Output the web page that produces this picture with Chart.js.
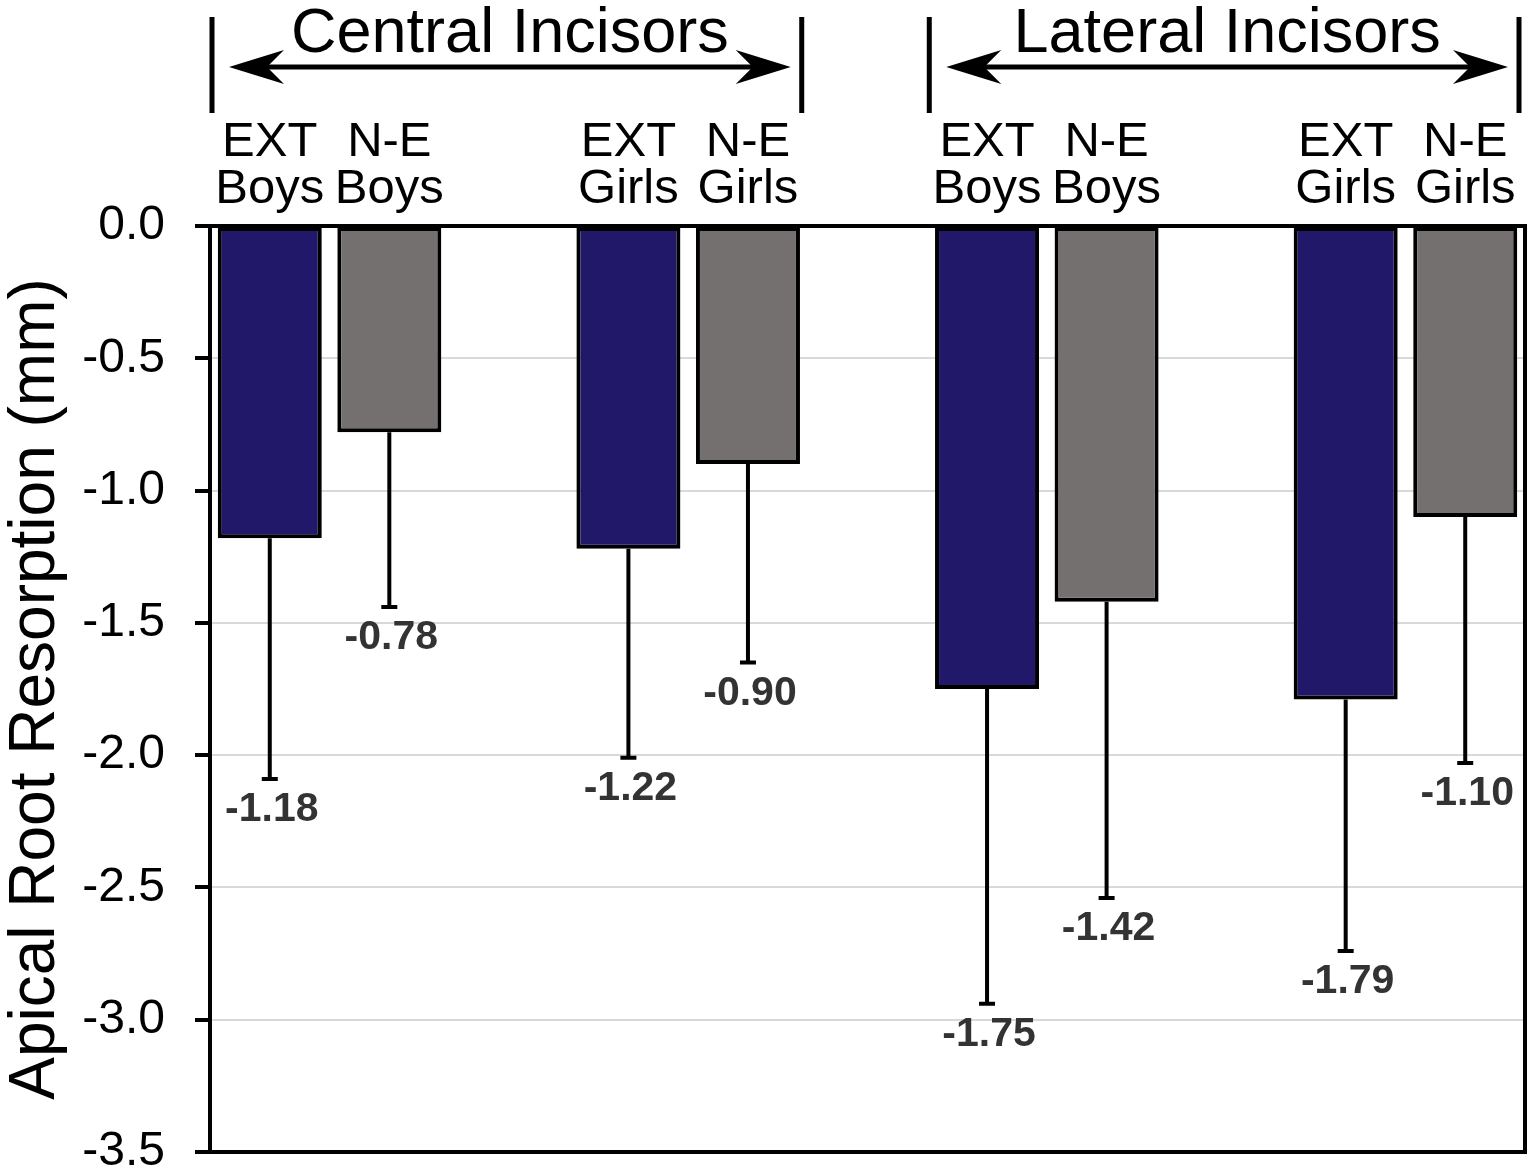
<!DOCTYPE html>
<html>
<head>
<meta charset="utf-8">
<script src="https://cdn.jsdelivr.net/npm/chart.js@4.4.1/dist/chart.umd.min.js"></script>
<style>
  body { margin: 0; background: #fff; }
  #wrap { width: 1535px; height: 1175px; position: relative; }
</style>
</head>
<body>
<div id="wrap"><canvas id="grafico"></canvas></div>
<script>
// categorias (las posiciones vacias separan los grupos)
const categorias = [
    ['EXT', 'Boys'], ['N-E', 'Boys'], '',
    ['EXT', 'Girls'], ['N-E', 'Girls'], '',
    ['EXT', 'Boys'], ['N-E', 'Boys'], '',
    ['EXT', 'Girls'], ['N-E', 'Girls']
];
const medias = [-1.18, -0.78, null, -1.22, -0.90, null, -1.75, -1.42, null, -1.79, -1.10];
const desviacion = [0.91, 0.66, null, 0.79, 0.75, null, 1.19, 1.12, null, 0.95, 0.93];
const colores = ['#22186A', '#73706F', null, '#22186A', '#73706F', null, '#22186A', '#73706F', null, '#22186A', '#73706F'];
const ticksY = [-3.5, -3.0, -2.5, -2.0, -1.5, -1.0, -0.5, 0];
const grupos = ['Central Incisors', 'Lateral Incisors'];
const rangoGrupos = [[0, 4], [6, 10]];

const fuente = "'Liberation Sans', Arial, sans-serif";

const pluginExtras = {
    id: 'extras',
    afterDatasetsDraw(chart) {
        const ctx = chart.ctx;
        const y = chart.scales.y;
        const x = chart.scales.x;
        const meta = chart.getDatasetMeta(0);
        const area = chart.chartArea;

        // barras de error y etiquetas
        ctx.save();
        ctx.strokeStyle = '#000';
        ctx.lineWidth = 4;
        medias.forEach((m, i) => {
            if (m === null) return;
            const bar = meta.data[i];
            const yFin = y.getPixelForValue(m - desviacion[i]);
            ctx.beginPath();
            ctx.moveTo(bar.x, bar.y);
            ctx.lineTo(bar.x, yFin);
            ctx.moveTo(bar.x - 8, yFin);
            ctx.lineTo(bar.x + 8, yFin);
            ctx.stroke();
            ctx.fillStyle = '#333';
            ctx.font = 'bold 41px ' + fuente;
            ctx.textAlign = 'center';
            ctx.textBaseline = 'alphabetic';
            ctx.fillText(m.toFixed(2), bar.x + 2, yFin + 42);
        });

        // marco
        ctx.lineWidth = 4;
        ctx.strokeRect(area.left, area.top, area.right - area.left, area.bottom - area.top);

        // corchetes superiores
        const ancho = x.getPixelForValue(1) - x.getPixelForValue(0);
        ctx.fillStyle = '#000';
        rangoGrupos.forEach((r, g) => {
            const izq = x.getPixelForValue(r[0]) - ancho / 2 + 2;
            const der = x.getPixelForValue(r[1]) + ancho / 2 - 6;
            ctx.lineWidth = 5;
            ctx.beginPath();
            ctx.moveTo(izq, 17); ctx.lineTo(izq, 113);
            ctx.moveTo(der, 17); ctx.lineTo(der, 113);
            ctx.stroke();
            const a = izq + 17, b = der - 11, yA = 67;
            ctx.lineWidth = 5;
            ctx.beginPath();
            ctx.moveTo(a + 30, yA); ctx.lineTo(b - 30, yA);
            ctx.stroke();
            // puntas
            ctx.beginPath();
            ctx.moveTo(a, yA); ctx.lineTo(a + 55, yA - 17); ctx.lineTo(a + 38, yA); ctx.lineTo(a + 55, yA + 17);
            ctx.closePath(); ctx.fill();
            ctx.beginPath();
            ctx.moveTo(b, yA); ctx.lineTo(b - 55, yA - 17); ctx.lineTo(b - 38, yA); ctx.lineTo(b - 55, yA + 17);
            ctx.closePath(); ctx.fill();
            ctx.font = '63px ' + fuente;
            ctx.textAlign = 'center';
            ctx.textBaseline = 'alphabetic';
            ctx.fillText(grupos[g], (a + b) / 2, 52);
        });
        ctx.restore();
    }
};

const ctx = document.getElementById('grafico').getContext('2d');
new Chart(ctx, {
    type: 'bar',
    data: {
        labels: categorias,
        datasets: [{
            data: medias,
            backgroundColor: colores,
            borderColor: '#000',
            borderWidth: 4,
            borderSkipped: false,
            barPercentage: 0.87,
            categoryPercentage: 1.0
        }]
    },
    options: {
        responsive: true,
        maintainAspectRatio: false,
        animation: false,
        layout: { padding: { left: 0, top: 0, right: 10, bottom: 23 } },
        plugins: {
            legend: { display: false },
            tooltip: { enabled: false }
        },
        scales: {
            x: {
                position: 'top',
                grid: { display: false, drawTicks: false },
                border: { display: false },
                ticks: {
                    autoSkip: false,
                    maxRotation: 0,
                    color: '#000',
                    padding: 13,
                    font: { family: fuente, size: 49, lineHeight: 0.96 }
                },
                afterFit(scale) { scale.height = 226; }
            },
            y: {
                min: -3.5,
                max: 0,
                afterBuildTicks(scale) { scale.ticks = ticksY.map(v => ({ value: v })); },
                ticks: {
                    color: '#000',
                    padding: 30,
                    font: { family: fuente, size: 48 },
                    callback: v => v.toFixed(1)
                },
                grid: {
                    color: '#d9d9d9',
                    lineWidth: 2,
                    tickColor: '#000',
                    tickLength: 15,
                    tickWidth: 4
                },
                border: { display: false },
                title: {
                    display: true,
                    text: 'Apical Root Resorption (mm)',
                    color: '#000',
                    padding: { top: -2, bottom: 0 },
                    font: { family: fuente, size: 64 }
                },
                afterFit(scale) {
                    scale.width = 210;
                    scale.paddingTop = 0;
                    scale.paddingBottom = 0;
                }
            }
        }
    },
    plugins: [pluginExtras]
});
</script>
</body>
</html>
